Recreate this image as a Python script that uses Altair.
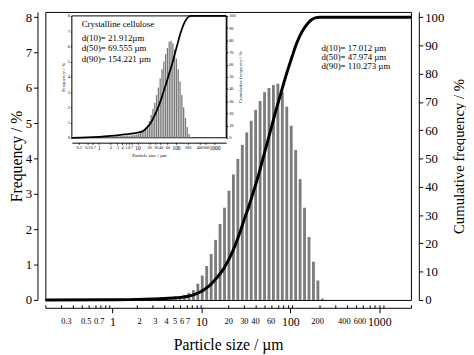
import altair as alt
import pandas as pd

# ---------------- data ----------------
# main histogram: particle size (µm) and frequency (%)
main_size = [2.29, 2.57, 2.88, 3.24, 3.63, 4.07, 4.57, 5.13, 5.75, 6.46, 7.24, 8.13,
             9.12, 10.23, 11.48, 12.88, 14.45, 16.22, 18.20, 20.42, 22.91, 25.70,
             28.84, 32.36, 36.31, 40.74, 45.71, 51.29, 57.54, 64.57, 72.44, 81.28,
             91.20, 102.3, 114.8, 128.8, 144.5, 162.2, 182.0, 204.2, 229.1]
main_freq = [0.02, 0.03, 0.05, 0.06, 0.07, 0.07, 0.07, 0.08, 0.10, 0.14, 0.20, 0.28,
             0.46, 0.69, 0.96, 1.30, 1.70, 2.15, 2.61, 3.09, 3.55, 3.99,
             4.39, 4.74, 5.07, 5.38, 5.63, 5.88, 6.00, 6.08, 6.12, 5.88,
             5.47, 4.93, 4.24, 3.42, 2.61, 1.78, 1.08, 0.55, 0.04]

# main cumulative curve: size (µm) and cumulative frequency (%)
main_cum_size = [0.2, 1, 2, 3, 4, 5, 6, 7, 8, 9, 10, 11, 12, 13, 14, 15, 17, 19, 21, 24,
                 27, 30, 34, 38, 43, 48, 54, 60, 66, 73, 80, 90, 100, 110, 120, 135,
                 150, 165, 180, 200, 2000]
main_cum = [0, 0.05, 0.2, 0.35, 0.5, 0.7, 0.9, 1.2, 1.6, 2.2, 2.9, 3.7, 4.6, 5.6, 6.7,
            7.8, 10.0, 12.5, 15.2, 19.5, 24.0, 28.5, 33.5, 38.5, 44.2, 50.0, 56.0, 61.5,
            66.5, 71.5, 76.0, 81.5, 86.0, 90.0, 93.0, 96.0, 98.0, 99.2, 99.8, 100, 100]

# inset histogram (crystalline cellulose)
in_size = [1.023, 1.148, 1.288, 1.445, 1.622, 1.820, 2.042, 2.291, 2.570, 2.884,
           3.236, 3.631, 4.074, 4.571, 5.129, 5.754, 6.457, 7.244, 8.128, 9.120,
           10.23, 11.48, 12.88, 14.45, 16.22, 18.20, 20.42, 22.91, 25.70, 28.84,
           32.36, 36.31, 40.74, 45.71, 51.29, 57.54, 64.57, 72.44, 81.28, 91.20,
           102.3, 114.8, 128.8, 144.5, 162.2, 182.0, 204.2, 229.1, 257.0]
in_freq = [0.06, 0.06, 0.07, 0.07, 0.08, 0.08, 0.09, 0.09, 0.10, 0.10,
           0.11, 0.11, 0.12, 0.12, 0.13, 0.14, 0.15, 0.17, 0.19, 0.22,
           0.25, 0.30, 0.36, 0.45, 0.60, 0.80, 1.10, 1.50, 1.90, 2.30,
           2.80, 3.30, 3.90, 4.50, 5.00, 5.50, 5.90, 6.30, 6.37, 6.20,
           5.80, 5.20, 4.50, 3.70, 2.80, 2.00, 1.30, 0.70, 0.25]

in_cum_size = [0.2, 0.5, 1, 2, 3, 5, 8, 10, 13, 16, 19, 22, 26, 30, 35, 40, 49, 60, 70,
               80, 90, 100, 115, 130, 155, 180, 210, 250, 2000]
in_cum = [0, 0.3, 0.8, 1.5, 2.0, 2.8, 3.6, 4.2, 5.0, 7.0, 9.5, 12.0, 16.5, 20.5, 25.5,
          30.5, 39.0, 48.0, 55.0, 61.0, 67.0, 72.5, 79.5, 85.5, 92.5, 96.5, 99.2, 100, 100]

# tick values / labels
x_labels = [0.3, 0.5, 0.7, 1, 2, 3, 4, 5, 6, 7, 10, 20, 30, 40, 60, 100, 200, 400, 600, 1000]
x_minor = [0.2, 0.3, 0.4, 0.5, 0.6, 0.7, 0.8, 0.9, 1, 2, 3, 4, 5, 6, 7, 8, 9,
           10, 20, 30, 40, 50, 60, 70, 80, 90, 100, 200, 300, 400, 500, 600, 700,
           800, 900, 1000, 2000]
y_left_ticks = [0, 1, 2, 3, 4, 5, 6, 7, 8]
y_right_ticks = [0, 10, 20, 30, 40, 50, 60, 70, 80, 90, 100]

main_lines = ["d(10)= 17.012 µm", "d(50)= 47.974 µm", "d(90)= 110.273 µm"]
main_line_x = [210, 210, 210]
main_line_y = [7.13, 6.87, 6.61]

inset_lines = ["Crystalline cellulose", "d(10)= 21.912µm", "d(50)= 69.555 µm", "d(90)= 154.221 µm"]
inset_line_x = [0.36, 0.36, 0.36, 0.36]
inset_line_y = [7.44, 6.54, 5.87, 5.18]

inset_box = pd.DataFrame({"x": [0.2], "x2": [2000], "y": [0], "y2": [8]})

main_df = pd.DataFrame({"size": main_size, "freq": main_freq})
main_cum_df = pd.DataFrame({"size": main_cum_size, "cum": main_cum})
in_df = pd.DataFrame({"size": in_size, "freq": in_freq})
in_cum_df = pd.DataFrame({"size": in_cum_size, "cum": in_cum})
main_txt = pd.DataFrame({"x": main_line_x, "y": main_line_y, "t": main_lines})
in_txt = pd.DataFrame({"x": inset_line_x, "y": inset_line_y, "t": inset_lines})

# ---------------- layout ----------------
FONT = "Liberation Serif"
W, H = 372, 293
IX0, IX1, IY0, IY1 = 27, 184, 128, 4   # inset placement inside the plot area
DEC = "datum.value == 1 || datum.value == 10 || datum.value == 100 || datum.value == 1000"

x_main = alt.Scale(type="log", domain=[0.2, 2000], nice=False)
y_left = alt.Scale(domain=[0, 8.15], nice=False)
y_right = alt.Scale(domain=[0, 101.875], nice=False)
x_in = alt.Scale(type="log", domain=[0.2, 2000], nice=False, range=[IX0, IX1])
y_in = alt.Scale(domain=[0, 8], nice=False, range=[IY0, IY1])
y_in_r = alt.Scale(domain=[0, 100], nice=False, range=[IY0, IY1])

bars = alt.Chart(main_df).mark_bar(orient="vertical", size=2.9, color="#7c7c7c").encode(
    x=alt.X("size:Q", scale=x_main, axis=alt.Axis(
        orient="bottom", offset=8, values=x_labels, format=".1~f",
        tickSize=5, tickOpacity={"condition": {"test": DEC, "value": 1}, "value": 0},
        labelFontSize={"condition": {"test": DEC, "value": 12}, "value": 8.5},
        labelPadding=4, labelOverlap=False, labelFlush=False,
        title="Particle size / µm", titleFontSize=16, titlePadding=9)),
    y=alt.Y("freq:Q", scale=y_left, axis=alt.Axis(
        orient="left", offset=8, values=y_left_ticks, tickSize=4, labelFontSize=13,
        labelPadding=2, title="Frequency / %", titleFontSize=16, titlePadding=1)),
)

curve = alt.Chart(main_cum_df).mark_line(color="black", strokeWidth=3, interpolate="monotone").encode(
    x=alt.X("size:Q", scale=x_main, axis=alt.Axis(
        orient="top", offset=-(H + 8), values=x_minor, labels=False, domain=False,
        tickSize=3, title=None)),
    y=alt.Y("cum:Q", scale=y_right, axis=alt.Axis(
        orient="right", offset=8, values=y_right_ticks, tickSize=4, labelFontSize=13,
        labelPadding=2, title="Cumulative frequency / %", titleFontSize=15,
        titleAngle=270, titleBaseline="top", titlePadding=8)),
)

main_text = alt.Chart(main_txt).mark_text(align="left", baseline="middle", font=FONT, fontSize=9).encode(
    x=alt.X("x:Q", scale=x_main, axis=None),
    y=alt.Y("y:Q", scale=y_left, axis=None),
    text="t:N",
)

box = alt.Chart(inset_box).mark_rect(fill="white", stroke="black", strokeWidth=1).encode(
    x=alt.X("x:Q", scale=x_in, axis=alt.Axis(
        orient="bottom", offset=-(H - IY0) + 5, values=x_labels, format=".1~f",
        tickSize=1.5, labelFontSize={"condition": {"test": DEC, "value": 5.5}, "value": 4.2},
        labelPadding=1, labelOverlap=False, labelFlush=False,
        title="Particle size / µm", titleFontSize=5, titlePadding=2)),
    x2="x2:Q",
    y=alt.Y("y:Q", scale=y_in, axis=alt.Axis(
        orient="left", offset=-IX0, values=y_left_ticks, tickSize=1.5, labelFontSize=4.5,
        labelPadding=1, title="Frequency / %", titleFontSize=5, titlePadding=2)),
    y2="y2:Q",
)

in_bars = alt.Chart(in_df).mark_bar(orient="vertical", size=1.3, color="#7a7a7a").encode(
    x=alt.X("size:Q", scale=x_in, axis=None),
    y=alt.Y("freq:Q", scale=y_in, axis=None),
)

in_curve = alt.Chart(in_cum_df).mark_line(color="black", strokeWidth=1.8, interpolate="monotone").encode(
    x=alt.X("size:Q", scale=x_in, axis=None),
    y=alt.Y("cum:Q", scale=y_in_r, axis=alt.Axis(
        orient="right", offset=-(W - IX1), values=y_right_ticks, tickSize=1.5,
        labelFontSize=4.5, labelPadding=1, domainWidth=1.5,
        title="Cumulative frequency / %", titleFontSize=5, titleAngle=270,
        titleBaseline="top", titlePadding=2)),
)

in_text = alt.Chart(in_txt).mark_text(align="left", baseline="middle", font=FONT, fontSize=9).encode(
    x=alt.X("x:Q", scale=x_in, axis=None),
    y=alt.Y("y:Q", scale=y_in, axis=None),
    text="t:N",
)

chart = alt.layer(bars, curve, main_text, box, in_bars, in_curve, in_text).resolve_scale(
    x="independent", y="independent"
).properties(
    width=W, height=H,
    autosize=alt.AutoSizeParams(type="none"),
    padding={"left": 38, "top": 1, "right": 56, "bottom": 53},
).configure_view(
    stroke="black", strokeWidth=1
).configure_axis(
    labelFont=FONT, titleFont=FONT, titleFontWeight="normal", grid=False,
    domainColor="black", tickColor="black", labelColor="black", titleColor="black",
)

chart.save("out.html", embed_options={"renderer": "svg", "actions": False})
